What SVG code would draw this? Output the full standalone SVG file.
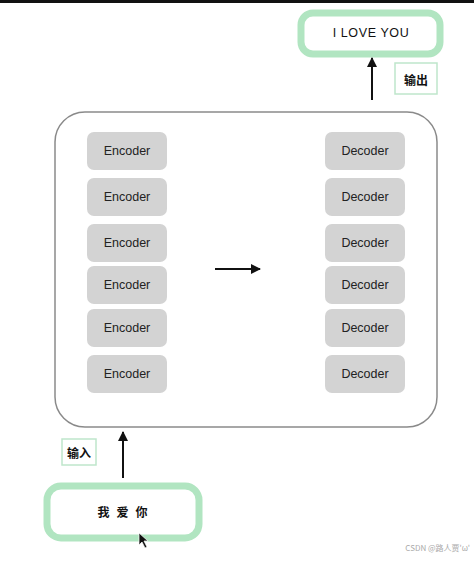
<svg xmlns="http://www.w3.org/2000/svg" width="474" height="561" viewBox="0 0 474 561">
<style>
.blk{fill:#d3d3d3;stroke:none}
.bt{font-family:"Liberation Sans",Arial,sans-serif;font-size:12.5px;fill:#222;text-anchor:middle;dominant-baseline:central}
.green{fill:#fff;stroke:#b1e5c1;stroke-width:7}
.lbl{fill:#fff;stroke:#bfe6cb;stroke-width:1.5}
.cjk{font-family:"Noto Sans CJK SC","Liberation Sans",sans-serif;font-weight:bold;fill:#111;text-anchor:middle;dominant-baseline:central}
.line{stroke:#111;stroke-width:2;fill:none}
</style>
<defs>
<marker id="ah" viewBox="0 0 10 10" refX="9" refY="5" markerWidth="5" markerHeight="5" orient="auto">
<path d="M0,0 L10,5 L0,10 z" fill="#111"/>
</marker>
</defs>
<rect x="0" y="0" width="474" height="561" fill="#fff"/>
<rect x="0" y="0" width="474" height="3" fill="#111"/>
<g id="container">
<rect x="55" y="112" width="382" height="315" rx="30" ry="30" fill="#fff" stroke="#8a8a8a" stroke-width="1.5"/>
</g>
<g id="encoders">
<rect class="blk" x="87" y="132" width="80" height="38" rx="7"/><text class="bt" x="127" y="151">Encoder</text>
<rect class="blk" x="87" y="178" width="80" height="38" rx="7"/><text class="bt" x="127" y="197">Encoder</text>
<rect class="blk" x="87" y="224" width="80" height="38" rx="7"/><text class="bt" x="127" y="243">Encoder</text>
<rect class="blk" x="87" y="266" width="80" height="38" rx="7"/><text class="bt" x="127" y="285">Encoder</text>
<rect class="blk" x="87" y="309" width="80" height="38" rx="7"/><text class="bt" x="127" y="328">Encoder</text>
<rect class="blk" x="87" y="355" width="80" height="38" rx="7"/><text class="bt" x="127" y="374">Encoder</text>
</g>
<g id="decoders">
<rect class="blk" x="325" y="132" width="80" height="38" rx="7"/><text class="bt" x="365" y="151">Decoder</text>
<rect class="blk" x="325" y="178" width="80" height="38" rx="7"/><text class="bt" x="365" y="197">Decoder</text>
<rect class="blk" x="325" y="224" width="80" height="38" rx="7"/><text class="bt" x="365" y="243">Decoder</text>
<rect class="blk" x="325" y="266" width="80" height="38" rx="7"/><text class="bt" x="365" y="285">Decoder</text>
<rect class="blk" x="325" y="309" width="80" height="38" rx="7"/><text class="bt" x="365" y="328">Decoder</text>
<rect class="blk" x="325" y="355" width="80" height="38" rx="7"/><text class="bt" x="365" y="374">Decoder</text>
</g>
<g id="output">
<rect class="green" x="301" y="13" width="139" height="41" rx="12"/>
<text x="371" y="33" font-family="Liberation Sans,Arial,sans-serif" font-size="12.5" letter-spacing="0.6" fill="#111" text-anchor="middle" dominant-baseline="central">I LOVE YOU</text>
</g>
<g id="output-label">
<rect class="lbl" x="395" y="63" width="42" height="31"/>
<text class="cjk" x="416" y="79" font-size="12">输出</text>
</g>
<g id="input">
<rect class="green" x="47" y="486" width="152" height="52" rx="14"/>
<text class="cjk" x="126" y="511" font-size="12" letter-spacing="7">我爱你</text>
</g>
<g id="input-label">
<rect class="lbl" x="62" y="439" width="34" height="26"/>
<text class="cjk" x="79" y="452" font-size="12">输入</text>
</g>
<g id="connectors">
<line class="line" x1="372" y1="100" x2="372" y2="58" marker-end="url(#ah)"/>
<line class="line" x1="123" y1="478" x2="123" y2="432" marker-end="url(#ah)"/>
<line class="line" x1="215" y1="269" x2="260" y2="269" stroke-width="1.5" marker-end="url(#ah)"/>
</g>
<path d="M139,533 L139,545 L142,542 L145,548 L147,547 L144,541 L148,541 z" fill="#111" stroke="#fff" stroke-width="0.7"/>
<text x="470" y="551" font-family="Noto Sans CJK SC,Liberation Sans,sans-serif" font-size="8" fill="#aaa" text-anchor="end">CSDN @路人贾'ω'</text>
</svg>
